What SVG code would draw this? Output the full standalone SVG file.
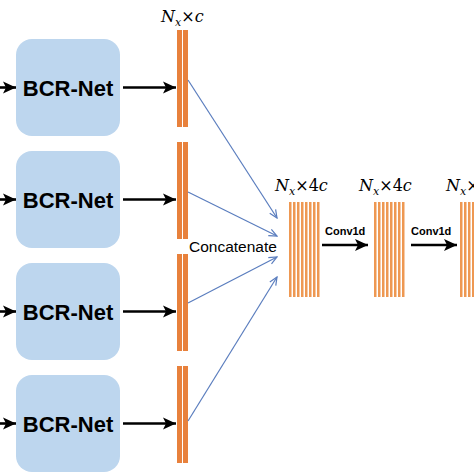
<svg xmlns="http://www.w3.org/2000/svg" width="474" height="474" viewBox="0 0 474 474">
<style>
.box{fill:#BDD6EE;}
.lbl{font-family:"Liberation Sans",Arial,sans-serif;font-weight:bold;font-size:22px;fill:#000;text-anchor:middle;}
.blk{stroke:#000;stroke-width:2.6;fill:none;marker-end:url(#ah);}
.blu{stroke:#5A7DBE;stroke-width:1.2;fill:none;marker-end:url(#bh);}
.st{fill:#E8813C;}
.st2{fill:#EE9852;}
.math{font-family:"DejaVu Serif",serif;font-style:italic;font-size:16px;fill:#000;}
.conv{font-family:"Liberation Sans",Arial,sans-serif;font-weight:bold;font-size:11px;fill:#000;}
</style>
<defs>
<marker id="ah" markerUnits="userSpaceOnUse" markerWidth="14" markerHeight="14" viewBox="0 0 14 14" refX="13" refY="7" orient="auto">
<path d="M0,1 L13,7 L0,13 L3,7 z" fill="#000"/>
</marker>
<marker id="bh" markerUnits="userSpaceOnUse" markerWidth="10" markerHeight="10" viewBox="0 0 10 10" refX="9" refY="5" orient="auto">
<path d="M1,1.5 L9,5 L1,8.5" fill="none" stroke="#5A7DBE" stroke-width="1.2"/>
</marker>
<g id="thin">
<rect class="st" x="177" y="0" width="5" height="97"/>
<rect class="st" x="183" y="0" width="5" height="97"/>
</g>
<g id="wide">
<rect class="st2" x="0" y="0" width="2.5" height="95"/>
<rect class="st2" x="4" y="0" width="2.5" height="95"/>
<rect class="st2" x="8" y="0" width="2.5" height="95"/>
<rect class="st2" x="12" y="0" width="2.5" height="95"/>
<rect class="st2" x="16" y="0" width="2.5" height="95"/>
<rect class="st2" x="20" y="0" width="2.5" height="95"/>
<rect class="st2" x="24" y="0" width="2.5" height="95"/>
<rect class="st2" x="28" y="0" width="2.5" height="95"/>
</g>
</defs>
<rect width="474" height="474" fill="#fff"/>
<g id="node-bcr1"><rect class="box" x="16" y="39" width="104" height="97" rx="16"/><text class="lbl" x="68" y="96">BCR-Net</text></g>
<g id="node-bcr2"><rect class="box" x="16" y="151" width="104" height="97" rx="16"/><text class="lbl" x="68" y="208">BCR-Net</text></g>
<g id="node-bcr3"><rect class="box" x="16" y="263" width="104" height="97" rx="16"/><text class="lbl" x="68" y="320">BCR-Net</text></g>
<g id="node-bcr4"><rect class="box" x="16" y="375" width="104" height="97" rx="16"/><text class="lbl" x="68" y="432">BCR-Net</text></g>
<g id="node-feat1"><use href="#thin" y="30"/></g>
<g id="node-feat2"><use href="#thin" y="142"/></g>
<g id="node-feat3"><use href="#thin" y="254"/></g>
<g id="node-feat4"><use href="#thin" y="366"/></g>
<g id="node-label-c"><text class="math" x="161" y="22">N<tspan font-size="11" dy="4">x</tspan><tspan dy="-4" font-style="normal">×</tspan>c</text></g>
<g id="node-cat"><use href="#wide" x="289" y="202"/><text class="math" x="275" y="191">N<tspan font-size="11" dy="4">x</tspan><tspan dy="-4" font-style="normal">×4</tspan>c</text></g>
<g id="node-conv1"><use href="#wide" x="374" y="202"/><text class="math" x="359" y="191">N<tspan font-size="11" dy="4">x</tspan><tspan dy="-4" font-style="normal">×4</tspan>c</text></g>
<g id="node-conv2"><use href="#wide" x="460" y="202"/><text class="math" x="446" y="191">N<tspan font-size="11" dy="4">x</tspan><tspan dy="-4" font-style="normal">×4</tspan>c</text></g>
<g id="connectors">
<line class="blk" x1="0" y1="87.5" x2="16" y2="87.5"/>
<line class="blk" x1="0" y1="199.5" x2="16" y2="199.5"/>
<line class="blk" x1="0" y1="311.5" x2="16" y2="311.5"/>
<line class="blk" x1="0" y1="423.5" x2="16" y2="423.5"/>
<line class="blk" x1="123" y1="87.5" x2="176" y2="87.5"/>
<line class="blk" x1="123" y1="199.5" x2="176" y2="199.5"/>
<line class="blk" x1="123" y1="311.5" x2="176" y2="311.5"/>
<line class="blk" x1="123" y1="423.5" x2="176" y2="423.5"/>
<line class="blu" x1="188" y1="80" x2="277" y2="218"/>
<line class="blu" x1="188" y1="192" x2="277" y2="236"/>
<line class="blu" x1="188" y1="303" x2="277" y2="257"/>
<line class="blu" x1="188" y1="421" x2="277" y2="277"/>
<line class="blk" x1="322" y1="245" x2="368" y2="245"/>
<line class="blk" x1="411" y1="245" x2="457" y2="245"/>
<text class="conv" x="325" y="235">Conv1d</text>
<text class="conv" x="411" y="235">Conv1d</text>
<text x="189" y="252" font-family="Liberation Sans,Arial,sans-serif" font-size="15.5" fill="#000">Concatenate</text>
</g>
</svg>
